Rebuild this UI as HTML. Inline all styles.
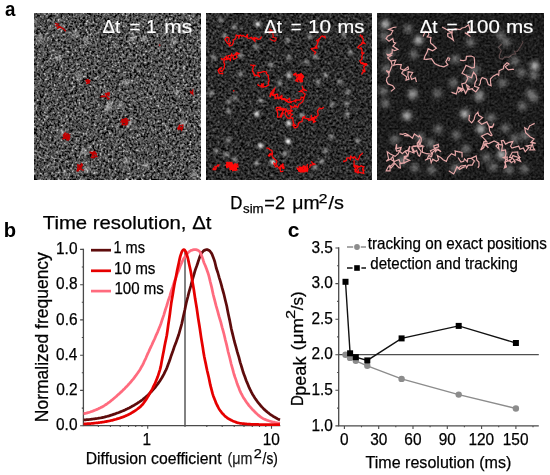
<!DOCTYPE html>
<html lang="en"><head><meta charset="utf-8"><title>Figure</title>
<style>html,body{margin:0;padding:0;background:#fff}svg{display:block}text{font-family:"Liberation Sans",Arial,sans-serif}</style>
</head><body>
<svg width="550" height="475" viewBox="0 0 550 475">
<defs>
<filter id="n1" x="0" y="0" width="1" height="1" color-interpolation-filters="sRGB"><feTurbulence type="fractalNoise" baseFrequency="0.72" numOctaves="2" seed="3"/><feConvolveMatrix order="3" kernelMatrix="0.5 1 0.5 1 4 1 0.5 1 0.5" edgeMode="duplicate" preserveAlpha="true"/><feColorMatrix type="matrix" values="3.9 0 0 0 -1.450 3.9 0 0 0 -1.450 3.9 0 0 0 -1.450 0 0 0 0 1"/><feComponentTransfer><feFuncR type="table" tableValues="0 0.017 0.07 0.18 0.25 0.315 0.375 0.435 0.51 0.61 0.75"/><feFuncG type="table" tableValues="0 0.017 0.07 0.18 0.25 0.315 0.375 0.435 0.51 0.61 0.75"/><feFuncB type="table" tableValues="0 0.017 0.07 0.18 0.25 0.315 0.375 0.435 0.51 0.61 0.75"/></feComponentTransfer></filter>
<filter id="n2" x="0" y="0" width="1" height="1" color-interpolation-filters="sRGB"><feTurbulence type="fractalNoise" baseFrequency="0.6" numOctaves="2" seed="7"/><feConvolveMatrix order="3" kernelMatrix="0.5 1 0.5 1 4 1 0.5 1 0.5" edgeMode="duplicate" preserveAlpha="true"/><feColorMatrix type="matrix" values="1.35 0 0 0 -0.506 1.35 0 0 0 -0.506 1.35 0 0 0 -0.506 0 0 0 0 1"/></filter>
<filter id="n3" x="0" y="0" width="1" height="1" color-interpolation-filters="sRGB"><feTurbulence type="fractalNoise" baseFrequency="0.6" numOctaves="2" seed="11"/><feConvolveMatrix order="3" kernelMatrix="0.5 1 0.5 1 4 1 0.5 1 0.5" edgeMode="duplicate" preserveAlpha="true"/><feColorMatrix type="matrix" values="0.6 0 0 0 -0.186 0.6 0 0 0 -0.186 0.6 0 0 0 -0.186 0 0 0 0 1"/></filter>
<radialGradient id="g"><stop offset="0" stop-color="#fff" stop-opacity="1"/><stop offset="0.25" stop-color="#fff" stop-opacity="0.78"/><stop offset="0.5" stop-color="#fff" stop-opacity="0.37"/><stop offset="0.75" stop-color="#fff" stop-opacity="0.1"/><stop offset="1" stop-color="#fff" stop-opacity="0"/></radialGradient>
<clipPath id="c1"><rect x="34" y="13" width="167" height="167"/></clipPath>
<clipPath id="c2"><rect x="206" y="13" width="166" height="167"/></clipPath>
<clipPath id="c3"><rect x="377" y="13" width="167" height="167"/></clipPath>
</defs>
<rect x="34" y="13" width="167" height="167" fill="#555" filter="url(#n1)"/>
<rect x="206" y="13" width="166" height="167" fill="#343434" filter="url(#n2)"/>
<rect x="377" y="13" width="167" height="167" fill="#222" filter="url(#n3)"/>
<g clip-path="url(#c1)">
<circle cx="58.4" cy="58.3" r="6" fill="url(#g)" opacity="0.42"/>
<circle cx="79.2" cy="76.3" r="6" fill="url(#g)" opacity="0.42"/>
<circle cx="74.5" cy="34.6" r="6" fill="url(#g)" opacity="0.42"/>
<circle cx="85.9" cy="40.3" r="6" fill="url(#g)" opacity="0.42"/>
<circle cx="106.7" cy="93.3" r="6" fill="url(#g)" opacity="0.42"/>
<circle cx="59.4" cy="28.0" r="6" fill="url(#g)" opacity="0.42"/>
<circle cx="41.4" cy="38.4" r="6" fill="url(#g)" opacity="0.42"/>
<circle cx="132.8" cy="38.5" r="6" fill="url(#g)" opacity="0.42"/>
<circle cx="144.2" cy="38.5" r="6" fill="url(#g)" opacity="0.42"/>
<circle cx="176.4" cy="91.6" r="6" fill="url(#g)" opacity="0.42"/>
<circle cx="173.6" cy="41.3" r="6" fill="url(#g)" opacity="0.42"/>
<circle cx="126.1" cy="82.1" r="6" fill="url(#g)" opacity="0.42"/>
<circle cx="107.7" cy="108.3" r="6" fill="url(#g)" opacity="0.42"/>
<circle cx="63.1" cy="131.9" r="6" fill="url(#g)" opacity="0.42"/>
<circle cx="84.0" cy="151.8" r="6" fill="url(#g)" opacity="0.42"/>
<circle cx="86.8" cy="168.9" r="6" fill="url(#g)" opacity="0.42"/>
<circle cx="109.5" cy="104.5" r="6" fill="url(#g)" opacity="0.42"/>
<circle cx="120.7" cy="105.4" r="6" fill="url(#g)" opacity="0.42"/>
<circle cx="129.2" cy="123.4" r="6" fill="url(#g)" opacity="0.42"/>
<circle cx="183.2" cy="123.4" r="6" fill="url(#g)" opacity="0.42"/>
<circle cx="146.2" cy="165.1" r="6" fill="url(#g)" opacity="0.42"/>
<circle cx="125.4" cy="161.3" r="6" fill="url(#g)" opacity="0.42"/>
<circle cx="194.5" cy="174.5" r="6" fill="url(#g)" opacity="0.42"/>
</g>
<g clip-path="url(#c2)">
<circle cx="220.8" cy="20.4" r="5.2" fill="url(#g)" opacity="0.45"/>
<circle cx="234.1" cy="27.0" r="5.2" fill="url(#g)" opacity="0.45"/>
<circle cx="257.8" cy="24.2" r="5.2" fill="url(#g)" opacity="0.85"/>
<circle cx="224.6" cy="35.6" r="5.2" fill="url(#g)" opacity="0.45"/>
<circle cx="213.3" cy="57.3" r="5.2" fill="url(#g)" opacity="0.45"/>
<circle cx="240.7" cy="55.5" r="5.2" fill="url(#g)" opacity="0.45"/>
<circle cx="271.0" cy="64.9" r="5.2" fill="url(#g)" opacity="0.45"/>
<circle cx="255.9" cy="46.9" r="5.2" fill="url(#g)" opacity="0.45"/>
<circle cx="240.7" cy="74.4" r="5.2" fill="url(#g)" opacity="0.45"/>
<circle cx="211.4" cy="93.3" r="5.2" fill="url(#g)" opacity="0.45"/>
<circle cx="279.5" cy="82.9" r="5.2" fill="url(#g)" opacity="0.45"/>
<circle cx="289.0" cy="74.4" r="5.2" fill="url(#g)" opacity="0.45"/>
<circle cx="287.8" cy="40.3" r="5.2" fill="url(#g)" opacity="0.45"/>
<circle cx="288.8" cy="57.3" r="5.2" fill="url(#g)" opacity="0.45"/>
<circle cx="306.8" cy="62.1" r="5.2" fill="url(#g)" opacity="0.45"/>
<circle cx="315.3" cy="56.4" r="5.2" fill="url(#g)" opacity="0.45"/>
<circle cx="350.3" cy="52.6" r="5.2" fill="url(#g)" opacity="0.45"/>
<circle cx="325.7" cy="75.3" r="5.2" fill="url(#g)" opacity="0.45"/>
<circle cx="318.1" cy="82.0" r="5.2" fill="url(#g)" opacity="0.45"/>
<circle cx="339.9" cy="82.0" r="5.2" fill="url(#g)" opacity="0.45"/>
<circle cx="288.8" cy="76.3" r="5.2" fill="url(#g)" opacity="0.45"/>
<circle cx="347.5" cy="92.4" r="5.2" fill="url(#g)" opacity="0.45"/>
<circle cx="309.6" cy="36.5" r="5.2" fill="url(#g)" opacity="0.45"/>
<circle cx="343.7" cy="34.6" r="5.2" fill="url(#g)" opacity="0.45"/>
<circle cx="228.4" cy="101.6" r="5.2" fill="url(#g)" opacity="0.45"/>
<circle cx="235.0" cy="97.8" r="5.2" fill="url(#g)" opacity="0.45"/>
<circle cx="228.4" cy="111.1" r="5.2" fill="url(#g)" opacity="0.45"/>
<circle cx="256.8" cy="113.9" r="5.2" fill="url(#g)" opacity="0.85"/>
<circle cx="228.4" cy="140.5" r="5.2" fill="url(#g)" opacity="0.45"/>
<circle cx="260.6" cy="145.8" r="5.2" fill="url(#g)" opacity="0.85"/>
<circle cx="288.1" cy="141.4" r="5.2" fill="url(#g)" opacity="1.0"/>
<circle cx="216.1" cy="150.9" r="5.2" fill="url(#g)" opacity="0.45"/>
<circle cx="226.5" cy="154.7" r="5.2" fill="url(#g)" opacity="0.45"/>
<circle cx="235.0" cy="159.4" r="5.2" fill="url(#g)" opacity="0.45"/>
<circle cx="256.8" cy="163.2" r="5.2" fill="url(#g)" opacity="0.45"/>
<circle cx="272.9" cy="162.2" r="5.2" fill="url(#g)" opacity="0.85"/>
<circle cx="285.2" cy="153.7" r="5.2" fill="url(#g)" opacity="0.45"/>
<circle cx="260.6" cy="100.7" r="5.2" fill="url(#g)" opacity="0.45"/>
<circle cx="332.3" cy="104.5" r="5.2" fill="url(#g)" opacity="0.45"/>
<circle cx="346.6" cy="103.5" r="5.2" fill="url(#g)" opacity="0.45"/>
<circle cx="347.5" cy="113.9" r="5.2" fill="url(#g)" opacity="0.45"/>
<circle cx="331.4" cy="136.7" r="5.2" fill="url(#g)" opacity="0.45"/>
<circle cx="325.7" cy="150.9" r="5.2" fill="url(#g)" opacity="0.45"/>
<circle cx="357.9" cy="140.5" r="5.2" fill="url(#g)" opacity="0.45"/>
<circle cx="315.3" cy="167.0" r="5.2" fill="url(#g)" opacity="0.45"/>
<circle cx="321.9" cy="161.3" r="5.2" fill="url(#g)" opacity="0.45"/>
<circle cx="302.0" cy="115.8" r="5.2" fill="url(#g)" opacity="0.45"/>
<circle cx="288.8" cy="123.4" r="5.2" fill="url(#g)" opacity="0.85"/>
</g>
<g clip-path="url(#c3)">
<circle cx="385.3" cy="24.2" r="9" fill="url(#g)" opacity="0.62"/>
<circle cx="408.0" cy="28.9" r="9" fill="url(#g)" opacity="0.33"/>
<circle cx="418.4" cy="40.3" r="9" fill="url(#g)" opacity="0.62"/>
<circle cx="384.3" cy="36.5" r="9" fill="url(#g)" opacity="0.33"/>
<circle cx="413.7" cy="54.5" r="9" fill="url(#g)" opacity="0.33"/>
<circle cx="455.3" cy="59.2" r="9" fill="url(#g)" opacity="0.33"/>
<circle cx="386.2" cy="68.7" r="9" fill="url(#g)" opacity="0.33"/>
<circle cx="383.4" cy="91.4" r="9" fill="url(#g)" opacity="0.33"/>
<circle cx="412.7" cy="93.3" r="9" fill="url(#g)" opacity="0.33"/>
<circle cx="437.3" cy="93.3" r="9" fill="url(#g)" opacity="0.33"/>
<circle cx="453.4" cy="82.9" r="9" fill="url(#g)" opacity="0.33"/>
<circle cx="389.0" cy="53.6" r="9" fill="url(#g)" opacity="0.33"/>
<circle cx="500.6" cy="35.6" r="9" fill="url(#g)" opacity="0.33"/>
<circle cx="506.3" cy="42.2" r="9" fill="url(#g)" opacity="0.33"/>
<circle cx="470.3" cy="42.2" r="9" fill="url(#g)" opacity="0.33"/>
<circle cx="534.7" cy="65.9" r="9" fill="url(#g)" opacity="0.62"/>
<circle cx="533.8" cy="75.3" r="9" fill="url(#g)" opacity="0.33"/>
<circle cx="514.8" cy="61.1" r="9" fill="url(#g)" opacity="0.33"/>
<circle cx="475.0" cy="69.7" r="9" fill="url(#g)" opacity="0.33"/>
<circle cx="502.5" cy="82.9" r="9" fill="url(#g)" opacity="0.33"/>
<circle cx="479.8" cy="94.3" r="9" fill="url(#g)" opacity="0.33"/>
<circle cx="530.0" cy="93.3" r="9" fill="url(#g)" opacity="0.33"/>
<circle cx="469.4" cy="78.2" r="9" fill="url(#g)" opacity="0.33"/>
<circle cx="521.4" cy="72.5" r="9" fill="url(#g)" opacity="0.33"/>
<circle cx="385.3" cy="103.5" r="9" fill="url(#g)" opacity="0.33"/>
<circle cx="407.0" cy="115.8" r="9" fill="url(#g)" opacity="0.62"/>
<circle cx="438.3" cy="129.1" r="9" fill="url(#g)" opacity="0.33"/>
<circle cx="456.3" cy="134.8" r="9" fill="url(#g)" opacity="0.33"/>
<circle cx="394.7" cy="139.5" r="9" fill="url(#g)" opacity="0.33"/>
<circle cx="430.7" cy="143.3" r="9" fill="url(#g)" opacity="0.33"/>
<circle cx="420.3" cy="137.6" r="9" fill="url(#g)" opacity="0.33"/>
<circle cx="402.3" cy="160.3" r="9" fill="url(#g)" opacity="0.33"/>
<circle cx="414.6" cy="167.9" r="9" fill="url(#g)" opacity="0.33"/>
<circle cx="431.7" cy="169.8" r="9" fill="url(#g)" opacity="0.33"/>
<circle cx="455.3" cy="167.9" r="9" fill="url(#g)" opacity="0.33"/>
<circle cx="412.7" cy="95.0" r="9" fill="url(#g)" opacity="0.33"/>
<circle cx="464.6" cy="113.9" r="9" fill="url(#g)" opacity="0.62"/>
<circle cx="480.7" cy="129.1" r="9" fill="url(#g)" opacity="0.62"/>
<circle cx="505.3" cy="128.1" r="9" fill="url(#g)" opacity="0.33"/>
<circle cx="491.1" cy="117.7" r="9" fill="url(#g)" opacity="0.33"/>
<circle cx="478.8" cy="97.8" r="9" fill="url(#g)" opacity="0.33"/>
<circle cx="533.8" cy="97.8" r="9" fill="url(#g)" opacity="0.33"/>
<circle cx="522.4" cy="106.4" r="9" fill="url(#g)" opacity="0.33"/>
<circle cx="465.6" cy="149.0" r="9" fill="url(#g)" opacity="0.33"/>
<circle cx="501.6" cy="154.7" r="9" fill="url(#g)" opacity="0.62"/>
<circle cx="525.2" cy="135.7" r="9" fill="url(#g)" opacity="0.33"/>
<circle cx="493.0" cy="167.0" r="9" fill="url(#g)" opacity="0.33"/>
<circle cx="524.3" cy="168.9" r="9" fill="url(#g)" opacity="0.33"/>
<circle cx="486.4" cy="157.5" r="9" fill="url(#g)" opacity="0.33"/>
<circle cx="509.1" cy="169.8" r="9" fill="url(#g)" opacity="0.33"/>
<circle cx="514.8" cy="138.6" r="9" fill="url(#g)" opacity="0.33"/>
</g>
<g clip-path="url(#c1)">
<polyline points="55.0,23.4 58.2,24.3 56.2,25.8 59.6,26.6 57.0,28.6 59.5,27.2 61.5,27.6 63.5,29.0 65.8,31.2 63.0,28.4 60.5,27.4" fill="none" stroke="#c00000" stroke-width="1.3" stroke-linejoin="miter" stroke-linecap="butt"/>
<polyline points="87.4,81.7 89.3,80.5 86.3,80.4 87.5,82.9 85.6,80.3 87.6,81.6 89.6,83.3 88.8,81.8 89.5,81.3 87.6,79.3 88.4,80.7 86.8,80.5 87.6,82.5 89.5,82.8 86.1,83.6" fill="none" stroke="#c00000" stroke-width="1.25" stroke-linejoin="miter" stroke-linecap="butt"/>
<polyline points="105.1,96.1 102.2,96.0 101.4,96.6 105.8,96.4 107.3,93.7 106.4,95.7 105.9,97.1 106.1,94.5 107.2,93.0 109.0,92.7 109.1,93.2 109.2,92.6 109.2,92.9 109.3,94.5 108.5,92.9 108.9,94.3 109.4,93.7 109.0,95.2 108.8,96.2 108.3,94.3 105.6,93.6 106.8,96.9 108.2,98.5 108.7,98.9 108.2,99.1 109.3,97.9 107.4,99.3" fill="none" stroke="#c00000" stroke-width="1.25" stroke-linejoin="miter" stroke-linecap="butt"/>
<polyline points="63.3,135.0 65.3,132.8 68.3,135.4 68.2,137.4 68.0,135.0 67.3,136.5 69.0,137.9 68.4,139.6 66.3,139.8 68.5,138.4 64.8,136.5 65.6,137.9 68.3,135.7 67.8,137.5 67.3,133.5 68.1,137.4 69.3,135.1 67.4,136.0 69.8,136.9 69.0,139.3 68.2,140.2 66.2,138.3 67.5,139.7 68.7,139.3 64.9,137.6 63.3,136.0 65.1,135.0 67.2,135.2 65.6,135.8 66.6,137.8 64.9,136.8 62.5,139.0 65.9,138.1" fill="none" stroke="#c00000" stroke-width="1.25" stroke-linejoin="miter" stroke-linecap="butt"/>
<polyline points="93.6,155.3 94.4,156.3 96.9,156.6 95.1,152.9 96.9,153.6 93.2,154.1 91.4,157.4 94.0,157.7 93.6,153.7 93.3,152.0 94.3,151.8 92.2,154.7 95.1,152.9 91.8,154.8 93.8,152.9 91.9,152.3 89.6,152.1 92.6,153.9 95.9,153.8 95.1,152.3 94.6,151.8" fill="none" stroke="#c00000" stroke-width="1.25" stroke-linejoin="miter" stroke-linecap="butt"/>
<polyline points="79.8,168.8 82.5,170.0 83.8,170.0 81.4,169.7 80.5,166.9 77.7,164.9 78.0,166.5 77.5,169.5 78.3,170.4 81.1,168.4 77.7,169.5 77.0,170.9 78.1,171.1 79.6,167.2 81.4,165.7 79.3,165.1 81.2,167.3 82.6,164.7 81.4,163.7 81.0,165.9 78.9,166.7" fill="none" stroke="#c00000" stroke-width="1.25" stroke-linejoin="miter" stroke-linecap="butt"/>
<polyline points="124.3,123.0 122.8,121.2 122.2,124.8 125.0,124.4 126.4,125.0 127.5,123.8 126.6,121.0 125.3,124.6 127.1,124.7 125.6,125.0 126.6,123.1 127.6,124.3 125.6,122.3 123.6,120.4 125.1,118.8 124.4,119.0 122.9,120.2 125.9,120.8 125.4,119.9 125.1,122.4 124.2,120.3 122.3,119.4 121.1,121.9 123.1,121.2 126.4,120.4 128.1,122.5 125.2,120.3 123.3,122.6 126.1,120.5 128.5,120.3 127.2,119.7 126.5,118.7 124.3,118.7" fill="none" stroke="#c00000" stroke-width="1.25" stroke-linejoin="miter" stroke-linecap="butt"/>
<polyline points="179.6,128.7 183.0,128.1 179.4,127.2 178.3,130.0 179.9,128.0 182.1,129.0 178.8,127.8 178.1,127.9 179.0,126.3 179.7,124.8 178.4,128.1 179.7,129.2 177.7,128.6 179.7,125.7 182.2,125.0 182.9,124.9 182.7,127.8 181.7,130.3 179.7,127.9" fill="none" stroke="#c00000" stroke-width="1.25" stroke-linejoin="miter" stroke-linecap="butt"/>
<polyline points="191.9,92.2 191.0,94.0 192.7,90.7 192.8,94.0 192.3,93.2 190.6,92.2 190.5,91.6 190.2,90.8" fill="none" stroke="#c00000" stroke-width="1.25" stroke-linejoin="miter" stroke-linecap="butt"/>
<polyline points="160.5,45.0 159.1,46.0 159.7,44.8 159.3,44.0" fill="none" stroke="#c00000" stroke-width="1.25" stroke-linejoin="miter" stroke-linecap="butt" opacity="0.55"/>
</g>
<g clip-path="url(#c2)">
<polyline points="228.4,42.2 229.2,38.8 228.8,37.5 226.6,37.1 225.6,38.4 224.9,39.7 226.2,41.5 227.6,43.4 228.9,43.8 230.6,42.3 229.0,44.8 229.5,46.0 232.2,45.0 233.2,42.6 233.4,40.0 235.2,39.1 236.1,37.2 236.0,34.4 236.5,35.7 238.8,35.6 238.7,38.5 239.3,36.3 240.2,34.9 241.6,36.2 243.1,35.5 244.3,36.3 246.1,36.9 247.5,34.1 247.3,36.1 247.8,38.0 249.2,38.4 251.5,37.3 252.0,38.7 254.7,37.7 256.4,38.1 253.3,39.5 254.9,41.2 254.9,37.8 258.1,39.3 260.2,38.9 261.6,36.5" fill="none" stroke="#ff0a0a" stroke-width="1.25" stroke-linejoin="miter" stroke-linecap="butt"/>
<polyline points="269.1,28.9 271.8,30.6 268.4,31.8 271.7,30.7 269.3,33.2 270.9,32.1 272.9,32.9 272.9,34.6 273.5,35.9 272.8,37.4 276.2,38.0 275.8,40.3 274.7,41.3 273.2,40.7 270.3,39.3 270.1,38.4" fill="none" stroke="#ff0a0a" stroke-width="1.25" stroke-linejoin="miter" stroke-linecap="butt" opacity="0.85"/>
<polyline points="220.8,58.3 222.6,59.6 224.4,58.2 226.5,56.4 226.7,59.7 229.8,58.4 230.3,61.1 230.6,59.0 231.2,55.8 231.7,54.1 232.9,56.0 235.0,54.5 236.7,52.6 238.8,53.6 235.8,54.7 237.1,57.1 236.0,58.3 233.6,59.2 233.2,57.4 233.3,56.0 230.9,55.4 228.4,55.5 228.0,58.0 226.1,59.3 224.9,59.2 223.6,62.0 224.6,64.0 224.4,67.3 223.1,69.8 221.7,71.5 220.3,71.1 219.9,68.7 222.0,67.6 219.6,68.3 218.1,70.3 219.4,73.3 222.7,73.8 222.7,72.5" fill="none" stroke="#ff0a0a" stroke-width="1.25" stroke-linejoin="miter" stroke-linecap="butt"/>
<polyline points="250.2,64.9 252.6,65.3 255.4,65.4 253.5,65.9 253.0,67.9 252.4,71.4 253.0,71.6 253.9,73.5 254.9,76.5 254.0,74.1 255.5,75.3 257.2,75.4 260.1,76.9 259.1,75.8 258.2,74.6 257.8,72.4 260.6,72.5 262.3,71.9 264.0,71.4 266.6,72.2 266.3,73.4 268.5,75.7 268.2,77.8 269.2,80.8 268.2,82.0 268.7,84.9 266.2,86.3 264.4,86.7 263.1,87.3 263.2,84.5 261.2,87.5 261.4,85.8 262.2,83.3 261.1,86.1 258.3,85.5 257.8,83.9" fill="none" stroke="#ff0a0a" stroke-width="1.25" stroke-linejoin="miter" stroke-linecap="butt"/>
<polyline points="233.1,90.5 234.3,91.1" fill="none" stroke="#ff0a0a" stroke-width="1.25" stroke-linejoin="miter" stroke-linecap="butt"/>
<polyline points="270.1,97.1 270.6,94.1 273.0,93.0 271.9,94.7 273.1,95.4 274.7,94.8 274.7,96.8 275.4,94.4 277.6,94.1 277.7,96.2 278.3,98.8 280.8,96.4 281.8,99.6 285.4,99.1 285.2,99.0 287.0,100.2 289.6,98.4 290.0,100.9" fill="none" stroke="#ff0a0a" stroke-width="1.25" stroke-linejoin="miter" stroke-linecap="butt"/>
<polyline points="324.8,35.6 325.1,37.7 322.7,35.9 321.0,36.4 320.0,38.4 318.9,39.1 317.3,40.7 316.2,40.3 318.8,40.7 317.8,42.2 317.1,44.9 316.2,46.2 317.2,47.9 315.2,46.2 316.8,48.1 314.6,48.0 311.3,48.8 313.4,50.7 315.7,52.3 314.4,54.5" fill="none" stroke="#ff0a0a" stroke-width="1.25" stroke-linejoin="miter" stroke-linecap="butt"/>
<polyline points="360.8,34.6 360.2,35.9 362.3,36.0 361.8,37.2 363.3,38.8 362.7,41.2 364.7,43.4 361.9,42.8 361.7,44.4 360.4,44.9 358.5,46.4 357.9,47.7 360.2,48.3 361.1,47.9 362.2,50.4 361.7,53.1 364.3,52.9 362.8,53.6 361.5,56.9 362.3,57.3 361.9,59.2 359.9,60.7 360.8,63.0 362.6,62.7 363.7,63.3 366.2,63.7 367.3,64.8 364.0,63.6 362.6,63.9 365.9,65.2 363.6,66.8 364.6,69.8 364.9,71.2 362.4,69.7 364.5,71.5 362.7,72.2 361.7,74.4" fill="none" stroke="#ff0a0a" stroke-width="1.25" stroke-linejoin="miter" stroke-linecap="butt"/>
<polyline points="301.7,82.4 299.3,79.3 300.5,82.2 300.3,80.4 301.2,78.7 301.5,80.2 300.5,78.6 301.9,78.4 303.1,75.6 300.3,75.1 301.3,73.7 303.5,76.8 301.6,79.3 297.9,79.0 295.7,80.9 298.0,81.7 297.1,78.9 298.3,77.2 299.6,74.7 300.8,76.4 297.5,75.1 296.3,74.5 294.5,75.1 294.0,75.3 293.6,74.3 295.9,73.1 296.4,76.6 298.2,74.5 302.1,74.5 303.8,76.8 302.5,78.4 298.4,78.4 298.8,76.8 298.9,79.4 301.0,77.6 302.6,80.1 302.5,81.4 299.1,79.0 299.7,75.9 301.4,78.5 299.2,76.1 298.0,76.8 300.0,76.2 299.8,74.5 300.3,73.8 302.5,75.8 298.9,76.5 296.8,78.5 295.5,80.8" fill="none" stroke="#ff0a0a" stroke-width="1.1" stroke-linejoin="miter" stroke-linecap="butt"/>
<polyline points="302.0,85.8 303.2,88.9 304.3,89.5 307.1,90.7 305.7,90.3 302.7,89.6 299.7,91.5 302.5,91.6 303.9,93.3 305.2,94.2 304.3,96.6 303.0,99.0" fill="none" stroke="#ff0a0a" stroke-width="1.25" stroke-linejoin="miter" stroke-linecap="butt"/>
<polyline points="270.1,96.9 270.5,93.4 272.1,91.3 274.5,88.7 273.8,91.6 272.4,93.3 272.7,94.8 274.7,95.3 275.2,96.6 275.0,98.6 277.9,97.6 279.5,97.8 281.8,95.5 282.1,96.9 280.8,98.2 283.0,98.6 284.8,98.7 285.2,100.7 287.6,101.9 290.0,102.6" fill="none" stroke="#ff0a0a" stroke-width="1.25" stroke-linejoin="miter" stroke-linecap="butt"/>
<polyline points="275.8,109.2 276.7,107.6 280.2,107.1 281.4,108.3 278.1,109.5 279.6,110.0 282.3,108.7 284.3,108.4 282.1,109.8 283.4,110.0 282.6,111.8 283.3,113.9 282.4,112.8 282.3,114.2 281.5,116.3 281.2,114.3 280.2,116.9 277.6,117.1 277.6,114.8 277.7,113.9 277.2,111.3 276.7,110.2 279.5,108.9 282.4,108.4 283.4,110.6 285.9,108.7 287.1,111.1 290.2,110.3 292.7,110.9 291.4,111.1 289.2,113.1 292.2,114.5 290.8,115.6 290.0,117.7" fill="none" stroke="#ff0a0a" stroke-width="1.25" stroke-linejoin="miter" stroke-linecap="butt"/>
<polyline points="266.3,148.0 269.0,148.4 269.4,149.6 271.9,150.4 272.5,154.0 270.1,153.7 268.0,155.9 269.7,155.2 269.1,156.6 270.1,154.6 271.5,154.3 272.2,156.3 272.9,157.5 274.6,158.9 277.0,161.1 276.1,164.2 273.9,163.2 274.4,164.9 275.8,167.0 276.9,165.5 277.7,166.6 278.8,167.9 280.1,167.9 279.3,169.4 280.2,168.6 280.5,171.6 282.7,171.4 283.3,170.8" fill="none" stroke="#ff0a0a" stroke-width="1.25" stroke-linejoin="miter" stroke-linecap="butt"/>
<polyline points="280.4,167.9 279.6,167.0 280.8,165.9 281.0,165.1 282.3,166.3 283.3,167.2 283.4,168.3 283.8,166.5 281.4,166.6 281.8,165.8 283.6,166.7 284.2,166.9 281.9,165.2 283.4,165.7 282.2,168.1 283.9,168.7 284.3,168.0 282.5,165.6 283.5,164.4 282.0,165.2 282.6,164.0 282.0,164.1 283.7,164.7" fill="none" stroke="#ff0a0a" stroke-width="1.1" stroke-linejoin="miter" stroke-linecap="butt"/>
<polyline points="230.3,168.2 230.7,169.6 231.9,168.5 233.4,166.8 230.7,165.5 232.2,164.6 234.2,166.1 234.4,168.3 235.3,169.0 233.8,168.2 233.5,169.8 235.8,170.6 236.3,169.3 236.2,167.6 235.6,166.2 235.1,163.2 234.8,165.0 232.9,167.9 233.1,166.2 235.4,164.5 237.7,163.9 237.9,166.6 238.0,166.8 235.7,166.4 235.7,168.4 232.1,169.0 229.8,167.6 229.7,165.9 230.8,163.3 231.8,162.3 230.4,162.8 228.1,163.9 231.5,163.4 229.9,166.1 232.3,163.6 231.4,162.6 232.3,162.6" fill="none" stroke="#ff0a0a" stroke-width="1.1" stroke-linejoin="miter" stroke-linecap="butt"/>
<polyline points="232.6,166.2 234.6,164.5 234.8,166.1 237.0,166.9 236.6,164.8 236.4,167.5 236.5,169.5 235.0,170.3 234.2,168.3 232.8,170.0 234.2,169.0 233.4,170.1 232.4,171.0 233.1,169.0 232.7,166.7 230.4,165.6 229.2,164.7 228.1,163.6 229.0,162.2 226.8,164.5 228.0,165.7 230.3,167.8 233.0,169.2 234.5,169.7 233.5,168.5 230.0,169.6 229.9,167.3 232.2,165.8 233.0,164.0 230.7,166.2 231.0,163.6 232.4,165.5 231.6,167.3 233.9,169.1 235.0,170.0 237.1,169.8 235.6,168.5" fill="none" stroke="#ff0a0a" stroke-width="1.1" stroke-linejoin="miter" stroke-linecap="butt"/>
<polyline points="236.1,169.5 235.6,166.1 234.9,164.9 234.4,166.8 236.6,167.2 234.5,166.0 234.3,164.3 233.9,165.9 234.1,169.0 230.9,168.9 232.9,166.7 230.5,169.2 232.6,169.7 234.7,167.6 232.6,169.8 232.7,166.6 232.4,169.2 230.5,166.3 227.6,166.0 227.9,164.4 227.2,163.9 226.7,163.2 229.2,163.6 230.1,161.9 228.6,164.2 229.1,166.4 227.1,167.6 226.6,167.4 226.4,165.4 225.8,165.1 228.3,163.4 227.6,162.4 226.8,164.1 226.8,162.8 228.8,163.9 230.3,164.6 229.1,166.3" fill="none" stroke="#ff0a0a" stroke-width="1.1" stroke-linejoin="miter" stroke-linecap="butt"/>
<polyline points="215.9,166.6 216.1,168.7 215.7,169.7 213.6,169.4 214.9,169.4 213.2,169.7 213.3,168.2 216.1,167.7 217.3,165.4 218.2,166.1 218.1,165.0 218.4,165.1 218.9,165.1 216.2,166.8 214.3,166.4" fill="none" stroke="#ff0a0a" stroke-width="1.1" stroke-linejoin="miter" stroke-linecap="butt"/>
<polyline points="285.0,99.7 287.5,101.5 289.3,102.3 290.5,102.4 291.5,103.3 290.6,101.5 292.9,101.4 294.5,100.7 295.7,101.9 295.6,99.9 299.0,100.1 300.7,99.5 301.3,97.0 303.9,97.8 303.2,100.2 302.5,101.9 300.2,103.5 299.0,104.1 297.7,107.4 296.4,106.4 294.7,105.3 295.5,107.1 294.2,105.7 295.8,107.3 294.9,106.1 293.3,107.4 290.4,105.9 291.3,107.9 290.7,110.2 290.3,111.5 290.1,112.8 288.4,114.3 287.7,111.6 286.0,110.7 285.2,112.8 285.0,113.9 285.7,115.0 287.4,117.9 289.8,118.3 292.6,117.7 293.0,120.7 293.5,123.4 295.2,125.2 292.9,125.1 294.7,127.9 294.5,128.1 297.6,126.8 298.6,123.7 298.3,123.4 299.9,122.1 302.0,121.5 302.4,119.2 302.9,117.2 304.7,116.6 304.1,117.8 307.2,118.8 307.7,118.7 308.8,120.5 311.6,119.6 313.4,117.7 315.9,118.1 314.4,115.9 315.9,117.0 318.0,115.4 318.1,113.9 317.4,111.2 318.2,109.8 319.7,107.9 321.5,108.7 323.8,107.3" fill="none" stroke="#ff0a0a" stroke-width="1.25" stroke-linejoin="miter" stroke-linecap="butt"/>
<polyline points="307.7,118.7 310.9,119.2 313.3,119.0 311.7,120.4 313.6,118.8 313.4,122.4 315.3,121.5 314.2,120.8 314.3,119.4 313.4,117.7 311.2,118.2 313.4,118.0 311.1,117.2 311.5,114.9" fill="none" stroke="#ff0a0a" stroke-width="1.25" stroke-linejoin="miter" stroke-linecap="butt"/>
<polyline points="304.2,168.8 305.7,169.3 306.7,170.3 303.4,170.6 306.3,170.4 307.2,171.6 308.1,168.6 306.4,167.9 305.6,169.9 303.9,166.8 304.8,166.1 306.3,168.1 306.5,170.3 303.9,169.9 301.9,171.5 301.4,171.9 302.4,171.8 304.3,172.0 305.8,171.2 306.5,168.1 304.8,170.3 305.6,167.6 303.3,165.8 302.4,167.7 302.4,169.4 300.1,169.1 300.8,170.1 302.6,170.1 304.1,171.3 304.9,168.9 303.5,167.1 306.0,168.5 305.8,167.0 304.6,169.6 304.1,168.0" fill="none" stroke="#ff0a0a" stroke-width="1.1" stroke-linejoin="miter" stroke-linecap="butt"/>
<polyline points="302.1,167.5 299.4,166.7 300.9,168.4 302.4,167.6 303.8,170.1 302.1,168.4 300.9,168.8 300.1,167.3 298.0,168.6 297.4,168.6 297.6,169.9 297.2,167.9 298.9,168.7 298.5,169.5 298.2,168.6 297.4,168.5 299.8,168.1 300.0,169.9 299.5,168.4 300.0,170.8 299.2,170.1 300.4,168.8 300.0,170.7 298.1,170.9 300.1,171.7 300.9,171.6 300.2,168.6 301.4,169.3 302.2,171.0 305.5,171.0 307.6,170.7 307.5,168.6 307.3,167.1 307.0,165.2 307.8,164.2" fill="none" stroke="#ff0a0a" stroke-width="1.1" stroke-linejoin="miter" stroke-linecap="butt"/>
<polyline points="309.6,167.9 310.4,164.7 311.7,165.0 314.6,164.1 312.4,163.2 311.5,161.3" fill="none" stroke="#ff0a0a" stroke-width="1.25" stroke-linejoin="miter" stroke-linecap="butt"/>
<polyline points="343.7,160.3 343.9,161.6 346.3,160.6 346.6,158.2 348.9,157.7 350.3,159.4 350.7,156.3 353.2,158.3 354.2,156.6 355.8,158.5 357.0,159.4 358.0,159.9 359.3,157.2 359.8,155.6 362.1,153.6 362.7,152.8" fill="none" stroke="#ff0a0a" stroke-width="1.25" stroke-linejoin="miter" stroke-linecap="butt"/>
<polyline points="354.1,160.3 354.1,163.2 354.0,166.6 355.3,167.9 354.6,165.1 355.8,165.8 357.0,165.7 358.9,167.0 360.9,165.8 364.0,166.9 362.5,169.0 364.5,170.8 362.9,169.9 363.8,173.4 360.8,172.6 359.8,172.3 358.5,172.0 357.8,173.7 358.4,170.6 356.9,172.2 355.1,171.7 356.5,169.7 354.0,169.8 356.5,169.2 358.2,167.4 357.4,168.4 356.5,166.2 354.1,165.1" fill="none" stroke="#ff0a0a" stroke-width="1.25" stroke-linejoin="miter" stroke-linecap="butt"/>
</g>
<g clip-path="url(#c3)">
<polyline points="396.6,27.0 393.8,27.3 388.8,29.4 392.9,30.7 390.9,34.6 387.5,36.3 386.1,38.7 389.0,41.2 392.8,38.6 393.7,42.4 395.7,43.1 392.9,46.1 397.9,49.4 394.7,50.7 392.2,49.5 392.1,53.1 387.9,55.6 387.2,54.5 391.5,55.4 387.7,57.8 390.9,61.1 392.2,65.3 390.7,69.0 388.9,73.4 386.2,70.6 388.7,71.7 389.0,76.3 387.0,77.8 386.4,80.9 388.1,83.9 392.8,85.7 394.6,88.4 390.9,91.4" fill="none" stroke="#e6a8a8" stroke-width="1.2" stroke-linejoin="miter" stroke-linecap="butt"/>
<polyline points="390.9,61.1 395.8,60.0 393.7,65.4 397.1,64.3 401.3,64.6 400.4,68.7 404.7,70.6 408.5,69.2 408.0,66.8 406.0,68.4 403.8,70.2 401.7,73.2 406.5,76.8 406.1,80.1 409.0,79.1 407.9,76.0 408.2,71.8 412.7,72.5 410.5,76.3 411.6,79.4 415.3,77.8 416.5,82.0" fill="none" stroke="#e6a8a8" stroke-width="1.2" stroke-linejoin="miter" stroke-linecap="butt"/>
<polyline points="423.1,36.5 425.3,31.2 428.4,32.7 428.8,34.6 427.2,36.8 431.0,37.5 430.4,40.6 430.7,43.1 432.8,44.8 436.4,48.2 432.6,50.7 428.1,48.6 426.9,52.6 424.8,56.5 424.1,59.2 426.7,59.3 431.5,58.7 434.7,63.6 437.3,64.9 439.7,65.9 443.8,66.9 447.9,64.8 445.8,61.8 448.0,57.7 449.7,58.3 448.7,61.1" fill="none" stroke="#e6a8a8" stroke-width="1.2" stroke-linejoin="miter" stroke-linecap="butt"/>
<polyline points="442.1,27.0 447.0,29.7 451.8,32.7 447.7,33.4 447.8,36.5 451.3,38.5 453.4,40.3 451.9,34.6 452.1,30.1 455.3,28.9 460.1,29.7 462.0,28.0 464.9,27.5 468.6,24.8 470.0,29.6 467.8,33.6 464.8,32.7 469.1,35.5 470.5,36.5" fill="none" stroke="#e6a8a8" stroke-width="1.2" stroke-linejoin="miter" stroke-linecap="butt"/>
<polyline points="451.5,92.4 456.3,93.9 457.9,88.3 461.0,89.5" fill="none" stroke="#e6a8a8" stroke-width="1.2" stroke-linejoin="miter" stroke-linecap="butt"/>
<polyline points="459.9,60.2 463.2,60.7 465.9,60.0 466.5,56.4 471.2,56.0 474.1,57.3 474.6,61.5 474.3,67.4 471.9,68.1 469.4,66.8 466.0,65.4 464.6,68.7 462.0,73.2 466.0,75.2 466.5,75.3 467.8,78.4 465.6,82.7 461.8,83.9 463.2,89.0 457.7,87.1 461.4,89.8 458.0,92.4" fill="none" stroke="#e6a8a8" stroke-width="1.2" stroke-linejoin="miter" stroke-linecap="butt"/>
<polyline points="467.5,76.3 471.6,77.8 473.5,72.2 476.0,75.3 476.8,79.5 475.0,82.9 474.6,86.3 478.8,87.7 475.8,91.9 471.9,88.9 472.2,88.6 468.2,89.7 469.2,86.8 466.5,84.8 467.7,89.4 465.6,93.3 463.7,89.3 460.8,91.4" fill="none" stroke="#e6a8a8" stroke-width="1.2" stroke-linejoin="miter" stroke-linecap="butt"/>
<polyline points="478.8,85.8 480.3,83.4 480.5,80.4 482.2,77.5 486.4,79.1 488.3,84.5 491.1,85.8 490.6,82.4 490.4,79.0 493.2,76.2 497.2,73.9 498.7,75.3 499.1,70.7 503.5,68.7 503.7,66.0 507.0,62.8 509.1,64.0 505.3,66.8 508.3,69.8 513.1,69.1 513.9,69.7" fill="none" stroke="#e6a8a8" stroke-width="1.2" stroke-linejoin="miter" stroke-linecap="butt"/>
<polyline points="501.6,44.1 498.6,47.3 501.3,50.6 499.4,55.0 499.5,58.0 502.5,59.2 504.8,56.8 508.8,57.3 512.7,54.3 515.5,53.8 514.6,51.3 517.5,51.2 520.6,46.5 522.9,42.3 522.4,41.2" fill="none" stroke="#e6a8a8" stroke-width="1.2" stroke-linejoin="miter" stroke-linecap="butt" opacity="0.3"/>
<polyline points="399.5,133.8 402.9,134.4 405.3,133.3 408.0,134.8 404.2,135.7 409.5,135.9 412.4,138.2 414.4,133.9 418.7,136.9 419.3,135.7 421.2,138.1 421.1,141.3 419.9,144.9 423.1,146.1 417.9,147.2 421.2,151.6 419.6,156.1 418.4,155.6 416.6,150.5 414.6,151.8 411.9,146.9 417.4,146.0 417.3,143.2 419.3,140.5 418.9,145.6 413.1,146.0 411.8,148.0 413.7,153.0 409.1,151.0 408.0,155.6 405.5,151.8 404.2,151.8 408.1,150.1 409.9,146.1 408.7,151.0 405.5,150.9 402.3,153.7 399.7,151.3 401.2,147.4 396.6,148.7 396.6,144.2 395.7,148.5 396.8,151.3 400.4,149.9 398.0,153.9 395.1,156.4 390.4,154.0 387.2,151.8 387.9,155.6 388.6,158.8 386.2,161.3 390.8,159.1 392.8,156.6 394.2,162.3 391.2,165.6 388.1,167.0 386.2,170.8 390.0,170.8 390.1,167.5 389.0,165.1 391.3,167.9 394.9,163.3 398.9,167.6 400.4,167.9 399.8,163.8 404.6,162.6 409.6,160.2 404.6,158.3 408.0,155.6 404.3,156.5 403.8,161.0 404.2,163.2 400.3,163.0 399.0,159.5 394.3,161.5 390.9,159.4" fill="none" stroke="#e6a8a8" stroke-width="1.2" stroke-linejoin="miter" stroke-linecap="butt"/>
<polyline points="423.1,146.1 422.3,149.4 422.4,152.3 426.9,153.7 432.2,154.3 430.4,150.7 434.5,149.0 433.8,145.9 438.3,144.2 438.7,146.8 435.3,147.9 435.4,151.8 437.9,149.1 441.1,151.8 436.2,148.9 432.8,152.1 431.6,156.6 428.8,155.6 427.0,159.2 425.0,160.3 430.1,158.0 431.2,162.8 432.7,159.2 436.4,161.3 438.6,159.8 437.3,155.6 440.8,157.5 443.1,159.7 446.4,161.3 447.8,157.5 451.5,153.7 455.3,155.6 455.4,151.1 454.4,150.9 459.6,152.1 459.1,151.8 462.0,152.4 462.1,156.5 462.0,157.5" fill="none" stroke="#e6a8a8" stroke-width="1.2" stroke-linejoin="miter" stroke-linecap="butt"/>
<polyline points="448.7,170.8 453.7,174.0 455.3,170.8 457.0,166.6 459.6,169.4 462.0,167.9 464.8,166.6" fill="none" stroke="#e6a8a8" stroke-width="1.2" stroke-linejoin="miter" stroke-linecap="butt"/>
<polyline points="469.4,114.9 468.9,120.1 471.7,122.9 474.1,119.6 475.1,115.5 477.9,112.0 478.6,115.3 482.6,117.7 478.2,121.3 481.7,124.4 486.9,121.9 486.4,121.5 489.3,126.6 492.7,126.6 494.0,123.4 492.1,127.7 489.2,127.2 489.6,130.7 492.1,135.0 491.1,135.7 487.7,133.5 486.4,133.8 481.4,136.2 483.8,138.4 486.9,141.9 483.9,141.7 482.6,146.1 480.7,149.9 483.8,147.6 484.5,144.2 487.8,147.0 488.3,148.0 485.8,143.7 489.2,143.3 494.1,141.0 498.9,143.1 495.9,146.1 499.0,149.1 498.2,144.2 502.5,145.2 501.3,140.8 503.5,140.5 505.5,144.1 509.1,142.3 512.9,141.4 510.6,146.1 512.0,148.0 516.7,146.7 518.6,146.1 520.0,149.3 523.3,148.0 525.2,151.8 529.0,147.4 526.2,146.1 531.7,145.0 529.9,149.8 534.7,149.9 533.3,147.7 531.7,142.0 535.7,143.3 530.9,142.5 534.1,138.9 530.0,136.7 525.7,132.6 524.7,127.8 527.8,129.7 529.7,125.8 530.9,125.3 534.7,123.4" fill="none" stroke="#e6a8a8" stroke-width="1.2" stroke-linejoin="miter" stroke-linecap="butt"/>
<polyline points="502.5,145.2 501.7,150.7 505.3,149.9 506.0,153.6 504.9,158.3 502.5,157.5 507.2,157.0 507.2,161.3 504.6,162.0 506.5,166.9 504.4,167.9 505.4,164.5 505.5,158.9 509.1,161.3 511.4,158.8 512.9,155.6 518.6,157.5 520.5,161.3 516.5,159.6 520.0,157.6 517.9,154.8 517.7,151.8 512.3,152.2 509.5,157.5 512.0,157.5 515.1,161.3 514.8,163.2 514.6,160.3 511.3,162.7 509.1,159.4" fill="none" stroke="#e6a8a8" stroke-width="1.2" stroke-linejoin="miter" stroke-linecap="butt"/>
<polyline points="458.0,157.5 461.0,162.1 463.7,161.3 464.5,158.9 467.3,161.7 467.9,158.5 471.3,158.4 474.4,160.9 472.2,165.1 468.2,165.2 466.5,167.9 465.6,165.3 460.8,166.0 458.0,168.9" fill="none" stroke="#e6a8a8" stroke-width="1.2" stroke-linejoin="miter" stroke-linecap="butt"/>
<polyline points="471.3,158.4 476.1,155.9 476.9,160.3 478.9,162.1 479.0,165.8 477.9,167.9" fill="none" stroke="#e6a8a8" stroke-width="1.2" stroke-linejoin="miter" stroke-linecap="butt"/>
</g>
<text x="102.44" y="33.3" font-size="19.2" fill="#fff" textLength="17.72" lengthAdjust="spacingAndGlyphs" stroke="#fff" stroke-width="0.2">Δt</text>
<text x="129.52" y="33.3" font-size="19.2" fill="#fff" textLength="10.78" lengthAdjust="spacingAndGlyphs" stroke="#fff" stroke-width="0.2">=</text>
<text x="146.21" y="33.3" font-size="19.2" fill="#fff" textLength="10.29" lengthAdjust="spacingAndGlyphs" stroke="#fff" stroke-width="0.2">1</text>
<text x="164.30" y="33.3" font-size="19.2" fill="#fff" textLength="27.74" lengthAdjust="spacingAndGlyphs" stroke="#fff" stroke-width="0.2">ms</text>
<text x="264.24" y="33.2" font-size="19.2" fill="#fff" textLength="17.72" lengthAdjust="spacingAndGlyphs" stroke="#fff" stroke-width="0.2">Δt</text>
<text x="290.72" y="33.2" font-size="19.2" fill="#fff" textLength="10.78" lengthAdjust="spacingAndGlyphs" stroke="#fff" stroke-width="0.2">=</text>
<text x="308.04" y="33.2" font-size="19.2" fill="#fff" textLength="23.08" lengthAdjust="spacingAndGlyphs" stroke="#fff" stroke-width="0.2">10</text>
<text x="337.44" y="33.2" font-size="19.2" fill="#fff" textLength="26.88" lengthAdjust="spacingAndGlyphs" stroke="#fff" stroke-width="0.2">ms</text>
<text x="419.63" y="33.2" font-size="19.2" fill="#fff" textLength="17.93" lengthAdjust="spacingAndGlyphs" stroke="#fff" stroke-width="0.2">Δt</text>
<text x="446.59" y="33.2" font-size="19.2" fill="#fff" textLength="11.14" lengthAdjust="spacingAndGlyphs" stroke="#fff" stroke-width="0.2">=</text>
<text x="465.67" y="33.2" font-size="19.2" fill="#fff" textLength="34.12" lengthAdjust="spacingAndGlyphs" stroke="#fff" stroke-width="0.2">100</text>
<text x="505.91" y="33.2" font-size="19.2" fill="#fff" textLength="27.53" lengthAdjust="spacingAndGlyphs" stroke="#fff" stroke-width="0.2">ms</text>
<text x="5.04" y="15.9" font-size="19.8" fill="#000" font-weight="bold" textLength="10.44" lengthAdjust="spacingAndGlyphs">a</text>
<text x="3.79" y="236.8" font-size="19.5" fill="#000" font-weight="bold" textLength="12.34" lengthAdjust="spacingAndGlyphs">b</text>
<text x="287.86" y="236.8" font-size="19.5" fill="#000" font-weight="bold" textLength="11.64" lengthAdjust="spacingAndGlyphs">c</text>
<text x="230.22" y="208.6" font-size="19.1" fill="#000" textLength="12.07" lengthAdjust="spacingAndGlyphs" stroke="#000" stroke-width="0.25">D</text>
<text x="243.04" y="212.9" font-size="12.6" fill="#000" textLength="20.63" lengthAdjust="spacingAndGlyphs" stroke="#000" stroke-width="0.25">sim</text>
<text x="264.34" y="208.6" font-size="19.1" fill="#000" textLength="20.67" lengthAdjust="spacingAndGlyphs" stroke="#000" stroke-width="0.25">=2</text>
<text x="292.29" y="208.6" font-size="19.1" fill="#000" textLength="27.41" lengthAdjust="spacingAndGlyphs" stroke="#000" stroke-width="0.25">μm</text>
<text x="318.82" y="202.7" font-size="12.2" fill="#000" textLength="8.68" lengthAdjust="spacingAndGlyphs" stroke="#000" stroke-width="0.25">2</text>
<text x="328.50" y="208.6" font-size="19.1" fill="#000" textLength="15.40" lengthAdjust="spacingAndGlyphs" stroke="#000" stroke-width="0.25">/s</text>
<text x="42.74" y="228.8" font-size="18.6" fill="#000" textLength="168.62" lengthAdjust="spacingAndGlyphs" stroke="#000" stroke-width="0.25">Time resolution, Δt</text>
<g stroke="#4a4a4a" stroke-width="1.3" fill="none">
<path d="M83.4 248.75V425.7M82.75 425.7H280.3"/>
<path d="M83.4 425.7h-3.3M83.4 408.1h-1.6M83.4 390.4h-3.3M83.4 372.8h-1.6M83.4 355.2h-3.3M83.4 337.5h-1.6M83.4 319.9h-3.3M83.4 302.3h-1.6M83.4 284.7h-3.3M83.4 267.0h-1.6M83.4 249.4h-3.3M98.4 425.7v1.4M110.4 425.7v1.4M120.2 425.7v1.4M128.5 425.7v1.4M135.7 425.7v1.4M142.0 425.7v1.4M147.7 425.7v3.0M185.0 425.7v1.4M206.8 425.7v1.4M222.2 425.7v1.4M234.2 425.7v1.4M244.0 425.7v1.4M252.3 425.7v1.4M259.5 425.7v1.4M265.8 425.7v1.4M271.5 425.7v3.0" stroke-width="1.1"/>
</g>
<line x1="185.0" y1="250" x2="185.0" y2="425.7" stroke="#585858" stroke-width="1.5"/>
<path d="M83.5,419.9 84.2,419.9 85.0,419.8 85.8,419.8 86.5,419.7 87.2,419.7 88.0,419.6 88.8,419.6 89.5,419.5 90.2,419.4 91.0,419.3 91.8,419.2 92.5,419.1 93.2,419.0 94.0,418.9 94.8,418.8 95.5,418.7 96.2,418.6 97.0,418.5 97.8,418.4 98.5,418.2 99.2,418.1 100.0,418.0 100.8,417.9 101.5,417.7 102.2,417.6 103.0,417.4 103.8,417.3 104.5,417.1 105.2,416.9 106.0,416.7 106.8,416.5 107.5,416.3 108.2,416.1 109.0,415.9 109.8,415.6 110.5,415.4 111.2,415.1 112.0,414.9 112.8,414.6 113.5,414.4 114.2,414.1 115.0,413.9 115.8,413.6 116.5,413.3 117.2,413.0 118.0,412.8 118.8,412.5 119.5,412.2 120.2,411.9 121.0,411.6 121.8,411.3 122.5,411.0 123.2,410.7 124.0,410.4 124.8,410.0 125.5,409.7 126.2,409.3 127.0,409.0 127.8,408.6 128.5,408.2 129.2,407.9 130.0,407.5 130.8,407.1 131.5,406.7 132.2,406.2 133.0,405.8 133.8,405.4 134.5,405.0 135.2,404.5 136.0,404.1 136.8,403.6 137.5,403.1 138.2,402.6 139.0,402.2 139.8,401.7 140.5,401.2 141.2,400.6 142.0,400.1 142.8,399.5 143.5,398.9 144.2,398.3 145.0,397.7 145.8,397.0 146.5,396.4 147.2,395.7 148.0,395.0 148.8,394.2 149.5,393.5 150.2,392.7 151.0,392.0 151.8,391.2 152.5,390.4 153.2,389.5 154.0,388.7 154.8,387.8 155.5,386.9 156.2,385.9 157.0,384.9 157.8,383.9 158.5,382.9 159.2,381.8 160.0,380.8 160.8,379.6 161.5,378.4 162.2,377.2 163.0,375.8 163.8,374.4 164.5,372.9 165.2,371.4 166.0,369.8 166.8,368.1 167.5,366.2 168.2,364.2 169.0,362.2 169.8,360.1 170.5,357.9 171.2,355.7 172.0,353.5 172.8,351.3 173.5,349.2 174.2,347.1 175.0,345.1 175.8,343.1 176.5,341.1 177.2,339.0 178.0,336.8 178.8,334.5 179.5,332.0 180.2,329.4 181.0,326.6 181.8,323.6 182.5,320.4 183.2,317.0 184.0,313.5 184.8,310.0 185.5,306.5 186.2,303.2 187.0,300.0 187.8,297.0 188.5,294.1 189.2,291.3 190.0,288.6 190.8,285.9 191.5,283.2 192.2,280.5 193.0,277.9 193.8,275.2 194.5,272.6 195.2,270.2 196.0,267.9 196.8,265.8 197.5,263.7 198.2,261.5 199.0,259.1 199.8,256.8 200.5,255.1 201.2,253.6 202.0,252.5 202.8,251.7 203.5,250.9 204.2,250.4 205.0,250.1 205.8,249.8 206.5,249.6 207.2,249.6 208.0,249.9 208.8,250.3 209.5,250.7 210.2,251.5 211.0,252.5 211.8,253.8 212.5,255.4 213.2,257.2 214.0,259.4 214.8,261.8 215.5,264.7 216.2,267.8 217.0,270.2 217.8,272.5 218.5,275.0 219.2,277.6 220.0,280.1 220.8,282.8 221.5,285.4 222.2,288.2 223.0,291.0 223.8,293.8 224.5,296.8 225.2,299.8 226.0,303.0 226.8,306.3 227.5,309.9 228.2,313.5 229.0,317.2 229.8,320.9 230.5,324.6 231.2,328.2 232.0,331.6 232.8,334.8 233.5,337.8 234.2,340.7 235.0,343.6 235.8,346.3 236.5,349.0 237.2,351.7 238.0,354.3 238.8,356.9 239.5,359.6 240.2,362.3 241.0,364.9 241.8,367.5 242.5,369.9 243.2,372.3 244.0,374.4 244.8,376.5 245.5,378.5 246.2,380.5 247.0,382.4 247.8,384.2 248.5,386.0 249.2,387.7 250.0,389.3 250.8,390.9 251.5,392.4 252.2,393.7 253.0,395.0 253.8,396.2 254.5,397.4 255.2,398.5 256.0,399.6 256.8,400.7 257.5,401.7 258.2,402.7 259.0,403.6 259.8,404.5 260.5,405.4 261.2,406.3 262.0,407.1 262.8,407.9 263.5,408.7 264.2,409.4 265.0,410.1 265.8,410.8 266.5,411.4 267.2,412.0 268.0,412.6 268.8,413.2 269.5,413.8 270.2,414.3 271.0,414.8 271.8,415.4 272.5,415.8 273.2,416.3 274.0,416.8 274.8,417.2 275.5,417.6 276.2,418.1 277.0,418.5 277.8,418.9 278.5,419.2 279.2,419.6 280.0,419.9" fill="none" stroke="#5e0c0c" stroke-width="2.75" stroke-linejoin="round"/>
<path d="M83.5,413.7 84.2,413.6 85.0,413.4 85.8,413.3 86.5,413.1 87.2,412.9 88.0,412.7 88.8,412.5 89.5,412.2 90.2,412.0 91.0,411.7 91.8,411.5 92.5,411.2 93.2,410.9 94.0,410.6 94.8,410.3 95.5,410.0 96.2,409.7 97.0,409.4 97.8,409.0 98.5,408.7 99.2,408.3 100.0,408.0 100.8,407.6 101.5,407.3 102.2,406.8 103.0,406.4 103.8,406.0 104.5,405.5 105.2,405.0 106.0,404.5 106.8,404.0 107.5,403.5 108.2,402.9 109.0,402.4 109.8,401.8 110.5,401.2 111.2,400.6 112.0,400.0 112.8,399.4 113.5,398.8 114.2,398.1 115.0,397.5 115.8,396.8 116.5,396.2 117.2,395.5 118.0,394.8 118.8,394.1 119.5,393.5 120.2,392.8 121.0,392.1 121.8,391.4 122.5,390.7 123.2,389.9 124.0,389.2 124.8,388.5 125.5,387.7 126.2,386.9 127.0,386.2 127.8,385.3 128.5,384.5 129.2,383.7 130.0,382.9 130.8,382.0 131.5,381.1 132.2,380.2 133.0,379.3 133.8,378.3 134.5,377.4 135.2,376.4 136.0,375.4 136.8,374.3 137.5,373.3 138.2,372.2 139.0,371.1 139.8,369.9 140.5,368.7 141.2,367.4 142.0,366.0 142.8,364.6 143.5,363.1 144.2,361.5 145.0,359.9 145.8,358.3 146.5,356.6 147.2,354.9 148.0,353.2 148.8,351.5 149.5,349.9 150.2,348.3 151.0,346.6 151.8,345.0 152.5,343.4 153.2,341.8 154.0,340.2 154.8,338.5 155.5,336.8 156.2,335.1 157.0,333.4 157.8,331.6 158.5,329.8 159.2,328.0 160.0,326.1 160.8,324.0 161.5,321.9 162.2,319.7 163.0,317.4 163.8,315.1 164.5,312.7 165.2,310.3 166.0,307.9 166.8,305.5 167.5,303.1 168.2,300.8 169.0,298.5 169.8,296.1 170.5,293.7 171.2,291.4 172.0,289.0 172.8,286.7 173.5,284.4 174.2,282.2 175.0,280.0 175.8,277.9 176.5,275.9 177.2,273.9 178.0,272.0 178.8,270.1 179.5,268.2 180.2,266.3 181.0,264.5 181.8,262.7 182.5,261.0 183.2,259.5 184.0,258.1 184.8,256.9 185.5,255.7 186.2,254.6 187.0,253.7 187.8,253.0 188.5,252.3 189.2,251.6 190.0,251.1 190.8,250.6 191.5,250.3 192.2,250.1 193.0,249.8 193.8,249.7 194.5,249.6 195.2,249.6 196.0,249.7 196.8,249.9 197.5,250.1 198.2,250.4 199.0,251.0 199.8,251.7 200.5,253.0 201.2,254.7 202.0,256.6 202.8,258.9 203.5,261.2 204.2,263.2 205.0,265.0 205.8,266.9 206.5,268.8 207.2,270.8 208.0,273.0 208.8,275.6 209.5,278.4 210.2,281.5 211.0,284.7 211.8,287.9 212.5,291.2 213.2,294.5 214.0,297.6 214.8,300.6 215.5,303.4 216.2,306.2 217.0,308.9 217.8,311.6 218.5,314.3 219.2,316.9 220.0,319.5 220.8,322.2 221.5,324.9 222.2,327.6 223.0,330.4 223.8,333.3 224.5,336.2 225.2,339.3 226.0,342.4 226.8,345.6 227.5,348.8 228.2,352.0 229.0,355.0 229.8,358.0 230.5,361.0 231.2,364.0 232.0,366.9 232.8,369.7 233.5,372.4 234.2,374.8 235.0,377.2 235.8,379.4 236.5,381.6 237.2,383.8 238.0,385.9 238.8,387.8 239.5,389.7 240.2,391.4 241.0,393.1 241.8,394.5 242.5,395.9 243.2,397.2 244.0,398.4 244.8,399.6 245.5,400.7 246.2,401.8 247.0,402.9 247.8,403.9 248.5,404.9 249.2,405.8 250.0,406.7 250.8,407.6 251.5,408.4 252.2,409.2 253.0,410.0 253.8,410.8 254.5,411.5 255.2,412.2 256.0,413.0 256.8,413.7 257.5,414.4 258.2,415.1 259.0,415.7 259.8,416.3 260.5,416.9 261.2,417.4 262.0,417.9 262.8,418.4 263.5,418.8 264.2,419.1 265.0,419.4 265.8,419.7 266.5,420.0 267.2,420.3 268.0,420.5 268.8,420.8 269.5,421.0 270.2,421.2 271.0,421.5 271.8,421.7 272.5,421.9 273.2,422.0 274.0,422.2 274.8,422.4 275.5,422.5 276.2,422.7 277.0,422.8 277.8,423.0 278.5,423.1 279.2,423.2 280.0,423.3" fill="none" stroke="#ff6b7e" stroke-width="2.75" stroke-linejoin="round"/>
<path d="M83.5,423.9 84.2,423.9 85.0,423.9 85.8,423.8 86.5,423.8 87.2,423.7 88.0,423.7 88.8,423.7 89.5,423.6 90.2,423.5 91.0,423.5 91.8,423.4 92.5,423.3 93.2,423.3 94.0,423.2 94.8,423.1 95.5,423.0 96.2,422.9 97.0,422.9 97.8,422.8 98.5,422.7 99.2,422.6 100.0,422.5 100.8,422.4 101.5,422.3 102.2,422.2 103.0,422.1 103.8,422.0 104.5,421.8 105.2,421.7 106.0,421.6 106.8,421.4 107.5,421.3 108.2,421.1 109.0,421.0 109.8,420.8 110.5,420.6 111.2,420.5 112.0,420.3 112.8,420.1 113.5,419.9 114.2,419.7 115.0,419.5 115.8,419.3 116.5,419.1 117.2,418.8 118.0,418.6 118.8,418.4 119.5,418.2 120.2,417.9 121.0,417.7 121.8,417.4 122.5,417.1 123.2,416.9 124.0,416.6 124.8,416.3 125.5,415.9 126.2,415.6 127.0,415.3 127.8,414.9 128.5,414.6 129.2,414.2 130.0,413.8 130.8,413.4 131.5,412.9 132.2,412.5 133.0,412.0 133.8,411.6 134.5,411.1 135.2,410.6 136.0,410.1 136.8,409.5 137.5,409.0 138.2,408.4 139.0,407.8 139.8,407.2 140.5,406.6 141.2,405.8 142.0,405.0 142.8,404.2 143.5,403.2 144.2,402.2 145.0,401.1 145.8,400.0 146.5,398.9 147.2,397.7 148.0,396.4 148.8,395.2 149.5,393.9 150.2,392.6 151.0,391.2 151.8,389.9 152.5,388.5 153.2,387.0 154.0,385.5 154.8,384.0 155.5,382.3 156.2,380.5 157.0,378.6 157.8,376.6 158.5,374.4 159.2,372.1 160.0,369.6 160.8,366.4 161.5,362.5 162.2,358.7 163.0,354.6 163.8,350.4 164.5,346.5 165.2,342.9 166.0,339.3 166.8,335.3 167.5,330.5 168.2,325.3 169.0,320.0 169.8,314.5 170.5,308.9 171.2,303.6 172.0,298.8 172.8,294.2 173.5,289.9 174.2,285.7 175.0,281.6 175.8,277.7 176.5,273.9 177.2,270.2 178.0,266.6 178.8,263.0 179.5,259.6 180.2,256.6 181.0,254.1 181.8,251.9 182.5,250.6 183.2,249.8 184.0,249.6 184.8,250.2 185.5,251.2 186.2,253.0 187.0,255.3 187.8,258.0 188.5,261.1 189.2,264.5 190.0,268.0 190.8,271.8 191.5,275.8 192.2,280.2 193.0,284.8 193.8,289.5 194.5,294.3 195.2,299.1 196.0,303.8 196.8,308.6 197.5,313.5 198.2,318.4 199.0,323.3 199.8,328.2 200.5,333.1 201.2,337.9 202.0,342.8 202.8,347.6 203.5,352.2 204.2,356.3 205.0,360.2 205.8,363.9 206.5,367.4 207.2,370.8 208.0,374.1 208.8,377.5 209.5,380.9 210.2,384.4 211.0,387.7 211.8,390.7 212.5,393.4 213.2,395.7 214.0,397.8 214.8,399.8 215.5,401.6 216.2,403.4 217.0,405.0 217.8,406.5 218.5,407.9 219.2,409.2 220.0,410.3 220.8,411.3 221.5,412.3 222.2,413.2 223.0,414.0 223.8,414.8 224.5,415.6 225.2,416.3 226.0,416.9 226.8,417.5 227.5,418.1 228.2,418.6 229.0,419.0 229.8,419.4 230.5,419.8 231.2,420.2 232.0,420.5 232.8,420.9 233.5,421.2 234.2,421.5 235.0,421.8 235.8,422.1 236.5,422.4 237.2,422.6 238.0,422.8 238.8,423.0 239.5,423.2 240.2,423.3 241.0,423.4 241.8,423.5 242.5,423.6 243.2,423.7 244.0,423.7 244.8,423.8 245.5,423.9 246.2,423.9 247.0,424.0 247.8,424.1 248.5,424.1 249.2,424.2 250.0,424.2 250.8,424.3 251.5,424.3 252.2,424.3 253.0,424.4 253.8,424.4 254.5,424.4 255.2,424.4 256.0,424.4 256.8,424.4 257.5,424.4 258.2,424.4 259.0,424.5 259.8,424.5 260.5,424.5 261.2,424.5 262.0,424.5 262.8,424.5 263.5,424.5 264.2,424.5 265.0,424.5 265.8,424.5 266.5,424.5 267.2,424.5 268.0,424.6 268.8,424.6 269.5,424.6 270.2,424.6 271.0,424.6 271.8,424.6 272.5,424.6 273.2,424.6 274.0,424.6 274.8,424.6 275.5,424.6 276.2,424.6 277.0,424.6 277.8,424.6 278.5,424.6 279.2,424.6 280.0,424.6" fill="none" stroke="#e60000" stroke-width="2.75" stroke-linejoin="round"/>
<line x1="91" y1="250.2" x2="111" y2="250.2" stroke="#5e0c0c" stroke-width="2.7"/>
<text x="113.41" y="252.9" font-size="16" fill="#000" textLength="31.49" lengthAdjust="spacingAndGlyphs" stroke="#000" stroke-width="0.25">1 ms</text>
<line x1="91" y1="270.8" x2="111" y2="270.8" stroke="#e60000" stroke-width="2.7"/>
<text x="114.06" y="273.5" font-size="16" fill="#000" textLength="41.38" lengthAdjust="spacingAndGlyphs" stroke="#000" stroke-width="0.25">10 ms</text>
<line x1="91" y1="291.1" x2="111" y2="291.1" stroke="#ff6b7e" stroke-width="2.7"/>
<text x="114.47" y="293.8" font-size="16" fill="#000" textLength="49.35" lengthAdjust="spacingAndGlyphs" stroke="#000" stroke-width="0.25">100 ms</text>
<text x="56.03" y="430.4" font-size="16.5" fill="#000" textLength="21.45" lengthAdjust="spacingAndGlyphs" stroke="#000" stroke-width="0.25">0.0</text>
<text x="56.23" y="395.1" font-size="16.5" fill="#000" textLength="21.45" lengthAdjust="spacingAndGlyphs" stroke="#000" stroke-width="0.25">0.2</text>
<text x="55.88" y="359.9" font-size="16.5" fill="#000" textLength="21.45" lengthAdjust="spacingAndGlyphs" stroke="#000" stroke-width="0.25">0.4</text>
<text x="56.11" y="324.6" font-size="16.5" fill="#000" textLength="21.45" lengthAdjust="spacingAndGlyphs" stroke="#000" stroke-width="0.25">0.6</text>
<text x="56.11" y="289.4" font-size="16.5" fill="#000" textLength="21.45" lengthAdjust="spacingAndGlyphs" stroke="#000" stroke-width="0.25">0.8</text>
<text x="56.03" y="254.1" font-size="16.5" fill="#000" textLength="21.45" lengthAdjust="spacingAndGlyphs" stroke="#000" stroke-width="0.25">1.0</text>
<text x="142.61" y="444.9" font-size="16.5" fill="#000" textLength="8.58" lengthAdjust="spacingAndGlyphs" stroke="#000" stroke-width="0.25">1</text>
<text x="262.65" y="444.9" font-size="16.5" fill="#000" textLength="17.16" lengthAdjust="spacingAndGlyphs" stroke="#000" stroke-width="0.25">10</text>
<text x="85.70" y="464.3" font-size="16.4" fill="#000" textLength="135.92" lengthAdjust="spacingAndGlyphs" stroke="#000" stroke-width="0.25">Diffusion coefficient</text>
<text x="227.51" y="464.3" font-size="16.4" fill="#222" textLength="24.92" lengthAdjust="spacingAndGlyphs" stroke="#222" stroke-width="0.25">(μm</text>
<text x="253.87" y="458.3" font-size="13" fill="#000" textLength="8.07" lengthAdjust="spacingAndGlyphs" stroke="#000" stroke-width="0.25">2</text>
<text x="262.60" y="464.3" font-size="16.4" fill="#000" textLength="15.23" lengthAdjust="spacingAndGlyphs" stroke="#000" stroke-width="0.25">/s)</text>
<text transform="translate(47.6,420.7) rotate(-90)" x="-1.44" y="0" font-size="17.6" fill="#000" stroke="#000" stroke-width="0.25" textLength="169.97" lengthAdjust="spacingAndGlyphs">Normalized frequency</text>
<g stroke="#4a4a4a" stroke-width="1.3" fill="none">
<path d="M338.7 247.35V425.9M338.05 425.9H538.8"/>
<path d="M338.7 425.9h-3.3M338.7 408.1h-1.6M338.7 390.3h-3.3M338.7 372.5h-1.6M338.7 354.7h-3.3M338.7 336.9h-1.6M338.7 319.2h-3.3M338.7 301.4h-1.6M338.7 283.6h-3.3M338.7 265.8h-1.6M338.7 248.0h-3.3M344.4 425.9v3.0M361.5 425.9v1.4M378.7 425.9v3.0M395.8 425.9v1.4M413.0 425.9v3.0M430.1 425.9v1.4M447.3 425.9v3.0M464.4 425.9v1.4M481.6 425.9v3.0M498.7 425.9v1.4M515.9 425.9v3.0M533.0 425.9v1.4" stroke-width="1.1"/>
</g>
<line x1="338.7" y1="354.7" x2="538.8" y2="354.7" stroke="#4f4f4f" stroke-width="1.2"/>
<polyline points="345.5,354.7 350.1,357.9 355.8,360.8 367.3,365.8 401.6,378.9 458.7,394.6 515.9,408.5" fill="none" stroke="#8c8c8c" stroke-width="1.4"/>
<circle cx="345.5" cy="354.7" r="3.2" fill="#8c8c8c"/>
<circle cx="350.1" cy="357.9" r="3.2" fill="#8c8c8c"/>
<circle cx="355.8" cy="360.8" r="3.2" fill="#8c8c8c"/>
<circle cx="367.3" cy="365.8" r="3.2" fill="#8c8c8c"/>
<circle cx="401.6" cy="378.9" r="3.2" fill="#8c8c8c"/>
<circle cx="458.7" cy="394.6" r="3.2" fill="#8c8c8c"/>
<circle cx="515.9" cy="408.5" r="3.2" fill="#8c8c8c"/>
<polyline points="345.5,281.8 350.1,353.3 355.8,357.2 367.3,360.4 401.6,338.4 458.7,325.9 515.9,343.0" fill="none" stroke="#111" stroke-width="1.4"/>
<rect x="342.5" y="278.8" width="6" height="6" fill="#000"/>
<rect x="347.1" y="350.3" width="6" height="6" fill="#000"/>
<rect x="352.8" y="354.2" width="6" height="6" fill="#000"/>
<rect x="364.3" y="357.4" width="6" height="6" fill="#000"/>
<rect x="398.6" y="335.4" width="6" height="6" fill="#000"/>
<rect x="455.7" y="322.9" width="6" height="6" fill="#000"/>
<rect x="512.9" y="340.0" width="6" height="6" fill="#000"/>
<path d="M347 247H353.2M360.8 247H366" stroke="#8c8c8c" stroke-width="1.4"/><circle cx="357" cy="247" r="2.9" fill="#8c8c8c"/>
<path d="M347 268H352.6M361.4 268H366" stroke="#111" stroke-width="1.4"/><rect x="354.2" y="265.2" width="5.6" height="5.6" fill="#000"/>
<text x="367.77" y="249.3" font-size="16.4" fill="#000" textLength="179.15" lengthAdjust="spacingAndGlyphs" stroke="#000" stroke-width="0.25">tracking on exact positions</text>
<text x="370.36" y="269.2" font-size="16.4" fill="#000" textLength="147.41" lengthAdjust="spacingAndGlyphs" stroke="#000" stroke-width="0.25">detection and tracking</text>
<text x="311.43" y="430.6" font-size="16.5" fill="#000" textLength="21.45" lengthAdjust="spacingAndGlyphs" stroke="#000" stroke-width="0.25">1.0</text>
<text x="311.47" y="395.0" font-size="16.5" fill="#000" textLength="21.45" lengthAdjust="spacingAndGlyphs" stroke="#000" stroke-width="0.25">1.5</text>
<text x="311.43" y="359.4" font-size="16.5" fill="#000" textLength="21.45" lengthAdjust="spacingAndGlyphs" stroke="#000" stroke-width="0.25">2.0</text>
<text x="311.47" y="323.9" font-size="16.5" fill="#000" textLength="21.45" lengthAdjust="spacingAndGlyphs" stroke="#000" stroke-width="0.25">2.5</text>
<text x="311.43" y="288.3" font-size="16.5" fill="#000" textLength="21.45" lengthAdjust="spacingAndGlyphs" stroke="#000" stroke-width="0.25">3.0</text>
<text x="311.47" y="252.7" font-size="16.5" fill="#000" textLength="21.45" lengthAdjust="spacingAndGlyphs" stroke="#000" stroke-width="0.25">3.5</text>
<text x="340.00" y="444.9" font-size="16.5" fill="#000" textLength="8.58" lengthAdjust="spacingAndGlyphs" stroke="#000" stroke-width="0.25">0</text>
<text x="370.14" y="444.9" font-size="16.5" fill="#000" textLength="17.16" lengthAdjust="spacingAndGlyphs" stroke="#000" stroke-width="0.25">30</text>
<text x="404.34" y="444.9" font-size="16.5" fill="#000" textLength="17.16" lengthAdjust="spacingAndGlyphs" stroke="#000" stroke-width="0.25">60</text>
<text x="438.66" y="444.9" font-size="16.5" fill="#000" textLength="17.16" lengthAdjust="spacingAndGlyphs" stroke="#000" stroke-width="0.25">90</text>
<text x="468.44" y="444.9" font-size="16.5" fill="#000" textLength="25.74" lengthAdjust="spacingAndGlyphs" stroke="#000" stroke-width="0.25">120</text>
<text x="502.74" y="444.9" font-size="16.5" fill="#000" textLength="25.74" lengthAdjust="spacingAndGlyphs" stroke="#000" stroke-width="0.25">150</text>
<text x="365.54" y="468.4" font-size="17.3" fill="#000" textLength="145.74" lengthAdjust="spacingAndGlyphs" stroke="#000" stroke-width="0.25">Time resolution (ms)</text>
<text transform="translate(302.6,404.8) rotate(-90)" x="-1.24" y="0" font-size="17.2" fill="#000" stroke="#000" stroke-width="0.25" textLength="10.85" lengthAdjust="spacingAndGlyphs">D</text>
<text transform="translate(306.2,394.6) rotate(-90)" x="-1.17" y="0" font-size="17.6" fill="#000" stroke="#000" stroke-width="0.25" textLength="39.19" lengthAdjust="spacingAndGlyphs">peak</text>
<text transform="translate(302.8,349.4) rotate(-90)" x="-1.17" y="0" font-size="17.2" fill="#000" stroke="#000" stroke-width="0.25" textLength="32.58" lengthAdjust="spacingAndGlyphs">(μm</text>
<text transform="translate(294.6,318.2) rotate(-90)" x="-0.81" y="0" font-size="13.2" fill="#000" stroke="#000" stroke-width="0.25" textLength="9.05" lengthAdjust="spacingAndGlyphs">2</text>
<text transform="translate(302.8,310.3) rotate(-90)" x="0.00" y="0" font-size="17.2" fill="#000" stroke="#000" stroke-width="0.25" textLength="18.83" lengthAdjust="spacingAndGlyphs">/s)</text>
</svg>
</body></html>
